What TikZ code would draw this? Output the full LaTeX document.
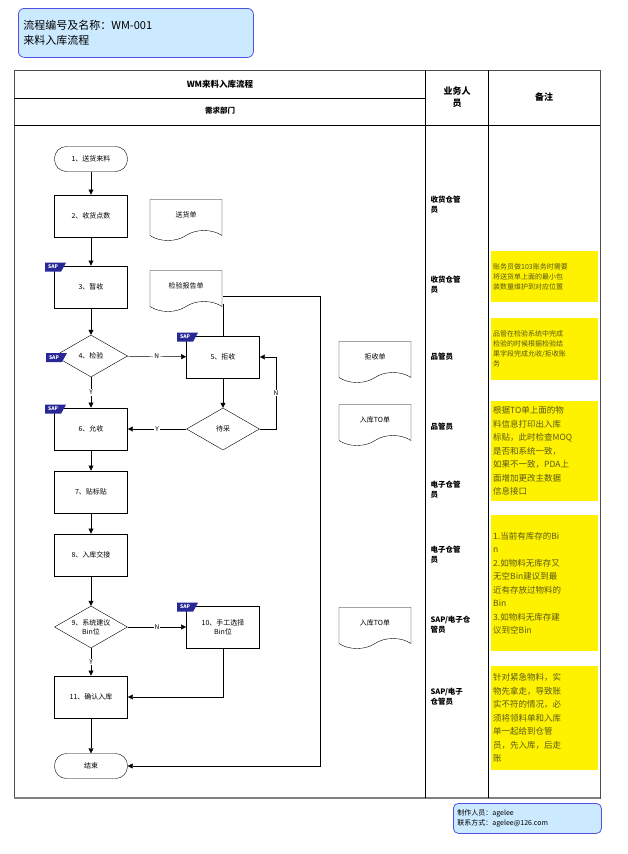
\documentclass[tikz,border=0pt]{standalone}
\usepackage{fontspec}
\setmainfont{Noto Sans CJK SC}
\usetikzlibrary{arrows.meta, shapes.geometric, shapes.symbols, calc}
\definecolor{notetext}{rgb}{0.35,0.35,0.1}
\definecolor{titlefill}{RGB}{204,234,255}
\definecolor{titledraw}{RGB}{80,80,230}
\definecolor{sapblue}{RGB}{40,40,150}
\tikzset{
  proc/.style={rectangle, draw, thick, minimum width=73pt, minimum height=42pt, align=center, font=\fontsize{7}{9}\selectfont},
  term/.style={rectangle, rounded corners=12pt, draw, minimum width=73pt, minimum height=25pt, font=\fontsize{7}{9}\selectfont},
  dec/.style={diamond, draw, minimum width=73pt, minimum height=42pt, aspect=1.74, inner sep=0pt, align=center, font=\fontsize{7}{9}\selectfont},
  doc/.style={tape, tape bend top=none, tape bend height=10pt, draw, minimum width=72pt, minimum height=41pt, align=center, font=\fontsize{7}{9}\selectfont},
  role/.style={anchor=west, align=left, font=\bfseries\fontsize{7.5}{10}\selectfont},
  note/.style={fill=yellow, text=notetext, anchor=north west, text width=103pt, align=left, inner sep=2pt, font=\fontsize{8.5}{13.5}\selectfont},
  arr/.style={-{Triangle[length=5pt,width=5pt]}},
  lbl/.style={font=\fontsize{6.5}{8}\selectfont, fill=white, inner sep=1pt}
}
\newcommand{\sapbadge}[1]{\fill[sapblue] ($(#1)+(-9,-3)$) -- ++(21,0) -- ++(-5,9) -- ++(-16,0) -- cycle;
  \node[text=white, font=\bfseries\fontsize{5}{5}\selectfont, inner sep=0pt] at ($(#1)+(-1,1.5)$) {SAP};}
\begin{document}
\begin{tikzpicture}[x=1pt,y=-1pt]
\useasboundingbox (0,0) rectangle (628,854);
% title box
\node[draw=titledraw, thick, fill=titlefill, rounded corners=6pt, minimum width=235pt, minimum height=49pt, anchor=north west, align=left, text width=225pt, font=\fontsize{11}{15}\selectfont] (title) at (18,8) {流程编号及名称：WM-001\\来料入库流程};
% table
\draw[thick, black!70] (14,70) rectangle (600,798);
\draw[line width=2pt, black!50] (14,798) -- (600,798);
\draw (425,70) -- (425,798);
\draw (488,70) -- (488,798);
\draw (14,98) -- (425,98);
\draw (14,125) -- (600,125);
\node[font=\bfseries\fontsize{8.5}{10}\selectfont] (hd1) at (220,84) {WM来料入库流程};
\node[font=\bfseries\fontsize{7.5}{10}\selectfont] (hd2) at (220,111) {需求部门};
\node[align=center, font=\bfseries\fontsize{9}{12}\selectfont] (hd3) at (457,97) {业务人\\员};
\node[font=\bfseries\fontsize{9}{12}\selectfont] (hd4) at (544,97) {备注};
% flow nodes
\node[term] (n1) at (91,159) {1、送货来料};
\node[proc] (n2) at (91,216) {2、收货点数};
\node[proc] (n3) at (91,287) {3、暂收};
\node[dec] (n4) at (91,356) {4、检验};
\node[proc] (n5) at (223,357) {5、拒收};
\node[dec] (n5b) at (223,429) {待采};
\node[proc] (n6) at (91,429) {6、允收};
\node[proc] (n7) at (91,492) {7、贴标贴};
\node[proc] (n8) at (91,555) {8、入库交接};
\node[dec] (n9) at (91,627) {9、系统建议\\Bin位};
\node[proc] (n10) at (223,627) {10、手工选择\\Bin位};
\node[proc] (n11) at (91,697) {11、确认入库};
\node[term] (n12) at (91,766) {结束};
% documents
\node[doc] (d1) at (186,215) {送货单};
\node[doc] (d2) at (186,286) {检验报告单};
\node[doc] (d3) at (375,357) {拒收单};
\node[doc] (d4) at (375,420) {入库TO单};
\node[doc] (d5) at (375,623) {入库TO单};
% SAP badges
\sapbadge{n3.north west}
\sapbadge{55,356}
\sapbadge{n5.north west}
\sapbadge{n6.north west}
\sapbadge{n10.north west}
% connectors
\draw[arr] (n1) -- (n2);
\draw[arr] (n2) -- (n3);
\draw[arr] (n3) -- (n4);
\draw[arr] (n4) -- node[lbl] {N} (n5);
\draw[arr] (n4) -- node[lbl] {Y} (n6);
\draw[arr] (n5) -- (n5b);
\draw[arr] (n5b) -- node[lbl] {Y} (n6);
\draw[arr] (n5b.east) -| node[lbl, pos=0.75] {N} (276,357) -- (n5.east);
\draw[arr] (n6) -- (n7);
\draw[arr] (n7) -- (n8);
\draw[arr] (n8) -- (n9);
\draw[arr] (n9) -- node[lbl] {N} (n10);
\draw[arr] (n9) -- node[lbl] {Y} (n11);
\draw[arr] (n10.south) |- (n11.east);
\draw[arr] (n11) -- (n12);
\draw (223,304) -- (n5.north);
\draw[arr] (223,296) -- (320,296) |- (n12.east);
% roles
\node[role] (r1) at (427,205) {收货仓管\\员};
\node[role] (r2) at (427,285) {收货仓管\\员};
\node[role] (r3) at (427,357) {品管员};
\node[role] (r4) at (427,427) {品管员};
\node[role] (r5) at (427,490) {电子仓管\\员};
\node[role] (r6) at (427,555) {电子仓管\\员};
\node[role] (r7) at (427,625) {SAP/电子仓\\管员};
\node[role] (r8) at (427,697) {SAP/电子\\仓管员};
% notes
\node[note, minimum height=51pt, font=\fontsize{7}{10}\selectfont] (m1) at (491,251) {账务员做103账务时需要\\将送货单上面的最小包\\装数量维护到对应位置};
\node[note, minimum height=62pt, font=\fontsize{7}{10}\selectfont] (m2) at (491,318) {品管在检验系统中完成\\检验的时候根据检验结\\果字段完成允收/拒收账\\务};
\node[note, minimum height=100pt] (m3) at (491,401) {根据TO单上面的物\\料信息打印出入库\\标贴，此时检查MOQ\\是否和系统一致，\\如果不一致，PDA上\\面增加更改主数据\\信息接口};
\node[note, minimum height=136pt] (m4) at (491,515) {1.当前有库存的Bi\\n\\2.如物料无库存又\\无空Bin建议到最\\近有存放过物料的\\Bin\\3.如物料无库存建\\议到空Bin};
\node[note, minimum height=104pt] (m5) at (491,666) {针对紧急物料，实\\物先拿走，导致账\\实不符的情况，必\\须将领料单和入库\\单一起给到仓管\\员，先入库，后走\\账};
% footer box
\node[draw=titledraw, thick, fill=titlefill, rounded corners=5pt, minimum width=148pt, minimum height=30pt, anchor=north west, align=left, text width=140pt, font=\fontsize{7}{10}\selectfont] (foot) at (453,803) {制作人员：agelee\\联系方式：agelee@126.com};
\end{tikzpicture}
\end{document}
